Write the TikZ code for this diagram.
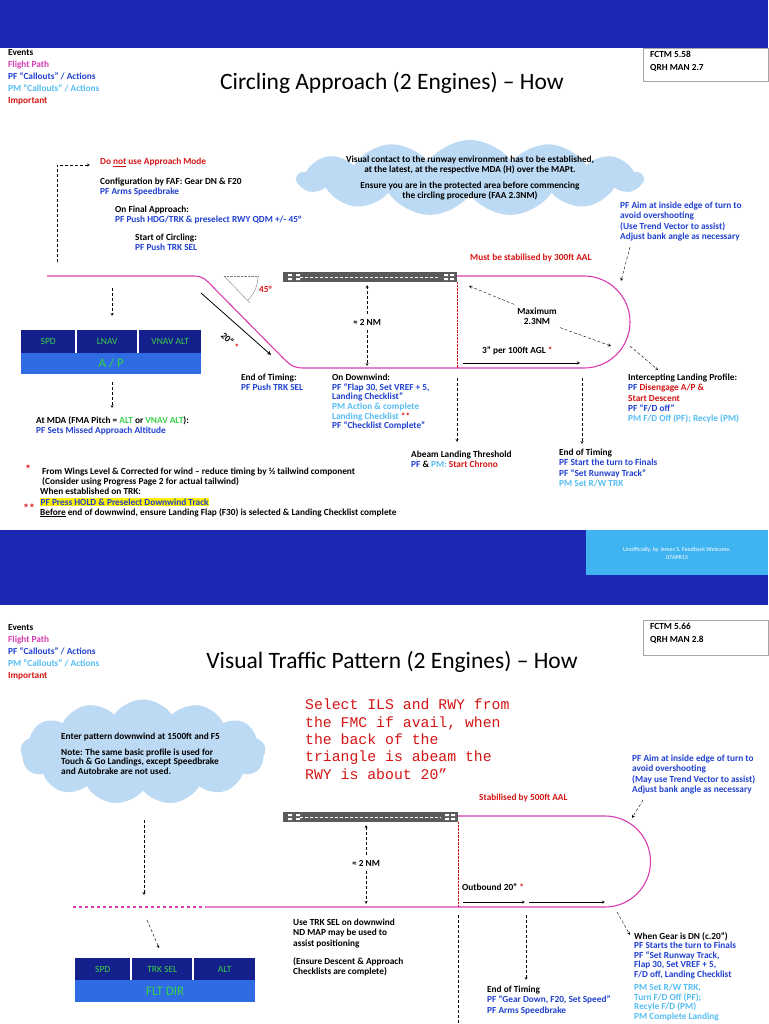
\documentclass[tikz,border=0pt]{standalone}
\usepackage{fontspec}
\setmainfont{Carlito}
\newfontfamily\monofont{Liberation Mono}
\usetikzlibrary{shapes, arrows, positioning, fit}

\definecolor{navy}{HTML}{1A28B4}
\definecolor{skyb}{HTML}{40B4F0}
\definecolor{pfblue}{HTML}{2040D0}
\definecolor{pmblue}{HTML}{55BCF2}
\definecolor{fpath}{HTML}{D83CB0}
\definecolor{imp}{HTML}{D41414}
\definecolor{fmagreen}{HTML}{38D048}
\definecolor{apdark}{HTML}{16208C}
\definecolor{aplight}{HTML}{2F6CE4}
\definecolor{cloudb}{HTML}{BCDAF4}
\definecolor{rwy}{HTML}{5A5A5A}

\newcommand{\PF}[1]{\textcolor{pfblue}{#1}}
\newcommand{\PM}[1]{\textcolor{pmblue}{#1}}
\newcommand{\IMP}[1]{\textcolor{imp}{#1}}

\begin{document}
\begin{tikzpicture}[x=1pt,y=-1pt,>=stealth,
  txt/.style={anchor=north west, inner sep=0, align=left, font=\bfseries\fontsize{9.3}{10.2}\selectfont},
  ctxt/.style={txt, anchor=center, align=center},
  arrow/.style={->, thin},
  darrow/.style={->, thin, densely dashed},
  path/.style={fpath, line width=1.1pt},
  cloudy/.style={cloud, cloud puffs=13, cloud puff arc=110, aspect=3, fill=cloudb, draw=none, inner sep=0},
  apcell/.style={fill=apdark, draw=none, inner sep=0, text=fmagreen, font=\fontsize{9.5}{10}\selectfont, anchor=north west},
  refbox/.style={draw=gray!70, fill=white, anchor=north west, minimum width=125pt, minimum height=33pt, inner sep=0}]

\useasboundingbox (0,0) rectangle (768,1024);

% Banners
\fill[navy] (0,0) rectangle (768,48);
\fill[navy] (0,530) rectangle (768,605);
\fill[skyb] (586,530) rectangle (768,575);
\node (credit) [ctxt, text=white, font=\fontsize{6}{8}\selectfont] at (677,553) {Unofficially, by James S. Feedback Welcome.\\07APR13};

% ---------------- Circling approach ----------------
\node (legend1) [txt, font=\bfseries\fontsize{9.3}{12}\selectfont] at (8,49) {Events\\\textcolor{fpath}{Flight Path}\\\PF{PF “Callouts” / Actions}\\\PM{PM “Callouts” / Actions}\\\IMP{Important}};
\node (ref1) [refbox] at (643,48) {};
\node (reftxt1) [txt, font=\bfseries\fontsize{9.3}{12.5}\selectfont] at (650,51) {FCTM 5.58\\QRH MAN 2.7};
\node (title1) [font=\fontsize{23.5}{26}\selectfont] at (392,83) {Circling Approach (2 Engines) – How};

\node (cloud1) [cloudy, minimum width=345pt, minimum height=76pt] at (470,178) {};
\node (cloudtxt1) [ctxt, font=\bfseries\fontsize{9.3}{9.8}\selectfont] at (cloud1) {Visual contact to the runway environment has to be established,\\at the latest, at the respective MDA (H) over the MAPt.\\[6pt]Ensure you are in the protected area before commencing\\the circling procedure (FAA 2.3NM)};

\node (donot) [txt] at (100,158) {\IMP{Do \underline{not} use Approach Mode}};
\node (config) [txt] at (100,178) {Configuration by FAF: Gear DN \& F20\\\PF{PF Arms Speedbrake}};
\node (final) [txt] at (115,206) {On Final Approach:\\\PF{PF Push HDG/TRK \& preselect RWY QDM +/- 45°}};
\node (startc) [txt] at (135,234) {Start of Circling:\\\PF{PF Push TRK SEL}};
\coordinate (gaLow) at (57,262);
\coordinate (gaEnd) at (90,165);
\draw[darrow] (gaLow) |- (gaEnd);

% runway and flight path
\fill[rwy] (283,272) rectangle (457,282);
\draw[white, densely dashed, line width=0.8pt] (300,277) -- (440,277);
\foreach \x in {288,296,444,450} \fill[white] (\x,274) rectangle ++(4,2) (\x,278) rectangle ++(4,2);
\draw[path] (47,276) -- (193,276) .. controls (204,276) and (206,280) .. (213,287) -- (283,358) .. controls (292,367) and (295,368) .. (305,368) -- (584,368) arc (90:-90:46) -- (457,276);
\draw[imp, densely dotted] (457,282) -- (457,368);

\coordinate (nmTop) at (367,285);
\coordinate (nmBot) at (367,366);
\node (nm1) [ctxt, inner sep=5pt] at (367,322) {≈ 2 NM};
\draw[darrow] (nm1.north) -- (nmTop);
\draw[darrow] (nm1.south) -- (nmBot);

\node (stab1) [txt] at (470,254) {\IMP{Must be stabilised by 300ft AAL}};
\node (max1) [ctxt, inner sep=3pt] at (537,316) {Maximum\\2.3NM};
\coordinate (maxL) at (469,286);
\coordinate (maxR) at (611,346);
\draw[darrow] (max1.north west) -- (maxL);
\draw[darrow] (max1.south east) -- (maxR);
\node (rate) [txt] at (482,347) {3” per 100ft AGL \IMP{*}};
\coordinate (rateS) at (463,363);
\coordinate (rateE) at (580,363);
\draw[arrow] (rateS) -- (rateE);

% 45 degree and 20 sec
\coordinate (tri) at (224,276);
\draw[gray, densely dotted] (tri) -- ++(34,0);
\draw[gray] (tri) -- ++(26,27);
\draw[gray] (tri) ++(0:34) arc (0:45:34);
\node (deg45) [txt] at (259,286) {\IMP{45°}};
\coordinate (twS) at (201,293);
\coordinate (twE) at (271,355);
\draw[arrow, thick] (twS) -- (twE);
\node (tw) [txt, anchor=center, rotate=-45] at (230,341) {20” \IMP{*}};

% A/P annunciator
\node (apspd) [apcell, minimum width=54pt, minimum height=23pt] at (21,330) {SPD};
\node (aplnav) [apcell, minimum width=60pt, minimum height=23pt] at (77,330) {LNAV};
\node (apvnav) [apcell, minimum width=62pt, minimum height=23pt] at (139,330) {VNAV ALT};
\node (apmode) [apcell, fill=aplight, minimum width=180pt, minimum height=21pt, font=\fontsize{13}{14}\selectfont] at (21,353) {A / P};
\coordinate (apIn) at (112,288);
\coordinate (apTop) at (112,316);
\coordinate (apBot) at (112,382);
\coordinate (mdaTop) at (112,408);
\draw[darrow] (apIn) -- (apTop);
\draw[darrow] (apBot) -- (mdaTop);
\node (mda) [txt] at (36,416) {At MDA (FMA Pitch = \textcolor{fmagreen}{ALT} or \textcolor{fmagreen}{VNAV ALT}):\\\PF{PF Sets Missed Approach Altitude}};

\node (endt1) [txt] at (241,374) {End of Timing:\\\PF{PF Push TRK SEL}};
\node (down1) [txt, font=\bfseries\fontsize{9.3}{9.6}\selectfont] at (332,374) {On Downwind:\\\PF{PF “Flap 30, Set VREF + 5,}\\\PF{Landing Checklist”}\\\PM{PM Action \& complete}\\\PM{Landing Checklist} \IMP{**}\\\PF{PF “Checklist Complete”}};
\coordinate (abS) at (457,378);
\coordinate (abE) at (457,442);
\draw[darrow] (abS) -- (abE);
\node (abeam) [txt] at (411,451) {Abeam Landing Threshold\\\PF{PF} \& \PM{PM:} \IMP{Start Chrono}};
\coordinate (etS) at (582,378);
\coordinate (etE) at (582,444);
\draw[darrow] (etS) -- (etE);
\node (endt2) [txt] at (559,449) {End of Timing\\\PF{PF Start the turn to Finals}\\\PF{PF “Set Runway Track”}\\\PM{PM Set R/W TRK}};

\node (aim1) [txt] at (620,202) {\PF{PF Aim at inside edge of turn to}\\\PF{avoid overshooting}\\\PF{(Use Trend Vector to assist)}\\\PF{Adjust bank angle as necessary}};
\coordinate (aimS1) at (630,247);
\coordinate (aimE1) at (621,281);
\draw[darrow] (aimS1) -- (aimE1);
\coordinate (intS) at (630,346);
\coordinate (intE) at (658,370);
\draw[darrow] (intS) -- (intE);
\node (inter) [txt] at (628,374) {Intercepting Landing Profile:\\\PF{PF} \IMP{Disengage A/P \&}\\\IMP{Start Descent}\\\PF{PF “F/D off”}\\\PM{PM F/D Off (PF); Recyle (PM)}};

% footnotes
\node (star1) [txt] at (25,465) {\IMP{\large *}};
\node (foot1) [txt] at (42,468) {From Wings Level \& Corrected for wind – reduce timing by ½ tailwind component\\(Consider using Progress Page 2 for actual tailwind)};
\node (foot2) [txt] at (40,488) {When established on TRK:};
\node (hold) [txt, fill=yellow, inner sep=0.5pt] at (40,498) {\PF{PF Press HOLD \&  Preselect Downwind Track}};
\node (star2) [txt] at (23,504) {\IMP{\large **}};
\node (foot3) [txt] at (40,508) {\underline{Before} end of downwind, ensure Landing Flap (F30) is selected \& Landing Checklist complete};

% ---------------- Visual traffic pattern ----------------
\node (legend2) [txt, font=\bfseries\fontsize{9.3}{12}\selectfont] at (8,624) {Events\\\textcolor{fpath}{Flight Path}\\\PF{PF “Callouts” / Actions}\\\PM{PM “Callouts” / Actions}\\\IMP{Important}};
\node (ref2) [refbox, minimum height=35pt] at (643,620) {};
\node (reftxt2) [txt, font=\bfseries\fontsize{9.3}{12.5}\selectfont] at (650,623) {FCTM 5.66\\QRH MAN 2.8};
\node (title2) [font=\fontsize{23.5}{26}\selectfont] at (392,662) {Visual Traffic Pattern (2 Engines) – How};

\node (cloud2) [cloudy, aspect=2.3, minimum width=245pt, minimum height=105pt] at (143,752) {};
\node (cloudtxt2) [txt, font=\bfseries\fontsize{9.3}{9.6}\selectfont] at (61,733) {Enter pattern downwind at 1500ft and F5\\[6pt]Note: The same basic profile is used for\\Touch \& Go Landings, except Speedbrake\\and Autobrake are not used.};

\node (ils) [txt, font=\monofont\fontsize{14.8}{17.3}\selectfont, text=imp] at (305,699) {Select ILS and RWY from\\the FMC if avail, when\\the back of the\\triangle is abeam the\\RWY is about 20”};

\node (aim2) [txt] at (632,755) {\PF{PF Aim at inside edge of turn to}\\\PF{avoid overshooting}\\\PF{(May use Trend Vector to assist)}\\\PF{Adjust bank angle as necessary}};
\coordinate (aimS2) at (643,800);
\coordinate (aimE2) at (632,818);
\draw[darrow] (aimS2) -- (aimE2);
\node (stab2) [txt] at (479,794) {\IMP{Stabilised by 500ft AAL}};

\fill[rwy] (283,812) rectangle (458,822);
\draw[white, densely dashed, line width=0.8pt] (300,817) -- (441,817);
\foreach \x in {288,296,445,451} \fill[white] (\x,814) rectangle ++(4,2) (\x,818) rectangle ++(4,2);
\draw[path, dashed] (73,907) -- (205,907);
\draw[path] (205,907) -- (605,907) arc (90:-90:45.5) -- (458,816);
\draw[imp, densely dotted] (458,822) -- (458,907);
\coordinate (thS) at (458,915);
\coordinate (thE) at (458,1024);
\draw[densely dashed] (thS) -- (thE);

\coordinate (nmTop2) at (366,825);
\coordinate (nmBot2) at (366,904);
\node (nm2) [ctxt, inner sep=5pt] at (366,863) {≈ 2 NM};
\draw[darrow] (nm2.north) -- (nmTop2);
\draw[darrow] (nm2.south) -- (nmBot2);

\node (outb) [txt] at (462,884) {Outbound 20” \IMP{*}};
\coordinate (obA) at (463,902);
\coordinate (obB) at (525,902);
\coordinate (obC) at (529,902);
\coordinate (obD) at (605,902);
\draw[arrow] (obA) -- (obB);
\draw[arrow] (obC) -- (obD);

\coordinate (fdIn) at (144,820);
\coordinate (fdOut) at (144,895);
\draw[darrow] (fdIn) -- (fdOut);
\coordinate (fdS) at (147,920);
\coordinate (fdE) at (159,948);
\draw[darrow] (fdS) -- (fdE);
\node (fdspd) [apcell, minimum width=55pt, minimum height=22pt] at (75,958) {SPD};
\node (fdtrk) [apcell, minimum width=60pt, minimum height=22pt] at (132,958) {TRK SEL};
\node (fdalt) [apcell, minimum width=61pt, minimum height=22pt] at (194,958) {ALT};
\node (fdmode) [apcell, fill=aplight, minimum width=180pt, minimum height=22pt, font=\fontsize{13}{14}\selectfont] at (75,980) {FLT DIR};

\node (trksel) [txt] at (293,919) {Use TRK SEL on downwind\\ND MAP may be used to\\assist positioning\\[8pt](Ensure Descent \& Approach\\Checklists are complete)};

\coordinate (et3S) at (526,915);
\coordinate (et3E) at (526,980);
\draw[darrow] (et3S) -- (et3E);
\node (endt3) [txt] at (487,986) {End of Timing\\\PF{PF “Gear Down, F20, Set Speed”}\\\PF{PF Arms Speedbrake}};

\coordinate (gdS) at (617,912);
\coordinate (gdE) at (630,935);
\draw[darrow] (gdS) -- (gdE);
\node (gear) [txt, font=\bfseries\fontsize{9.3}{9.5}\selectfont] at (634,932) {When Gear is DN (c.20”)\\\PF{PF Starts the turn to Finals}\\\PF{PF “Set Runway Track,}\\\PF{Flap 30, Set VREF + 5,}\\\PF{F/D off, Landing Checklist}\\[4pt]\PM{PM Set R/W TRK,}\\\PM{Turn F/D Off (PF);}\\\PM{Recyle F/D (PM)}\\\PM{PM Complete Landing}};

\end{tikzpicture}
\end{document}
